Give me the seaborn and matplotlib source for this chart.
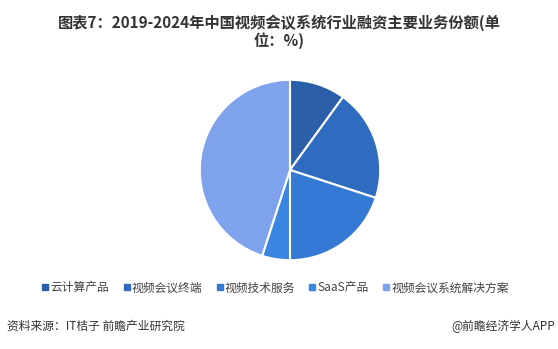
import matplotlib
matplotlib.use("Agg")
import matplotlib.pyplot as plt
import seaborn as sns
from matplotlib.lines import Line2D

categories = ["云计算产品", "视频会议终端", "视频技术服务", "SaaS产品", "视频会议系统解决方案"]
values = [10, 20, 20, 5, 45]
colors = ["#2b5fa9", "#2f6bbf", "#3479d3", "#3a86e0", "#7ea3ec"]

sns.set_theme(style="white")
plt.rcParams["font.family"] = ["Noto Sans CJK SC", "DejaVu Sans"]

fig = plt.figure(figsize=(5.58, 3.49), dpi=100)
fig.patch.set_facecolor("white")

ax = fig.add_axes([0.5197 - 0.165, 0.5129 - 0.2636, 0.33, 0.5272])
pal = sns.color_palette(colors)
wedges, _ = ax.pie(values, colors=pal, startangle=90, counterclock=False,
                   wedgeprops=dict(edgecolor="white", linewidth=1.5))
ax.set_xlim(-1.02, 1.02)
ax.set_ylim(-1.02, 1.02)
ax.set_aspect("equal")
ax.axis("off")

fig.text(0.5, 0.935, "图表7：2019-2024年中国视频会议系统行业融资主要业务份额(单", ha="center", va="center",
         fontsize=11, fontweight="bold", color="#333333")
fig.text(0.5, 0.885, "位：%)", ha="center", va="center",
         fontsize=11, fontweight="bold", color="#333333")

handles = [Line2D([0], [0], marker="s", linestyle="none", markersize=5,
                  markerfacecolor=c, markeredgecolor=c) for c in colors]
fig.legend(handles, categories, loc="center", bbox_to_anchor=(0.493, 0.175), ncol=5,
           frameon=False, fontsize=8.5, handlelength=0.7, handletextpad=0.1,
           columnspacing=1.1, labelcolor="#444444")

fig.text(0.012, 0.065, "资料来源：IT桔子 前瞻产业研究院", ha="left", va="center",
         fontsize=8.5, color="#333333")
fig.text(0.995, 0.065, "@前瞻经济学人APP", ha="right", va="center",
         fontsize=8.5, color="#333333")

fig.savefig("out.png", dpi=100, facecolor="white")
